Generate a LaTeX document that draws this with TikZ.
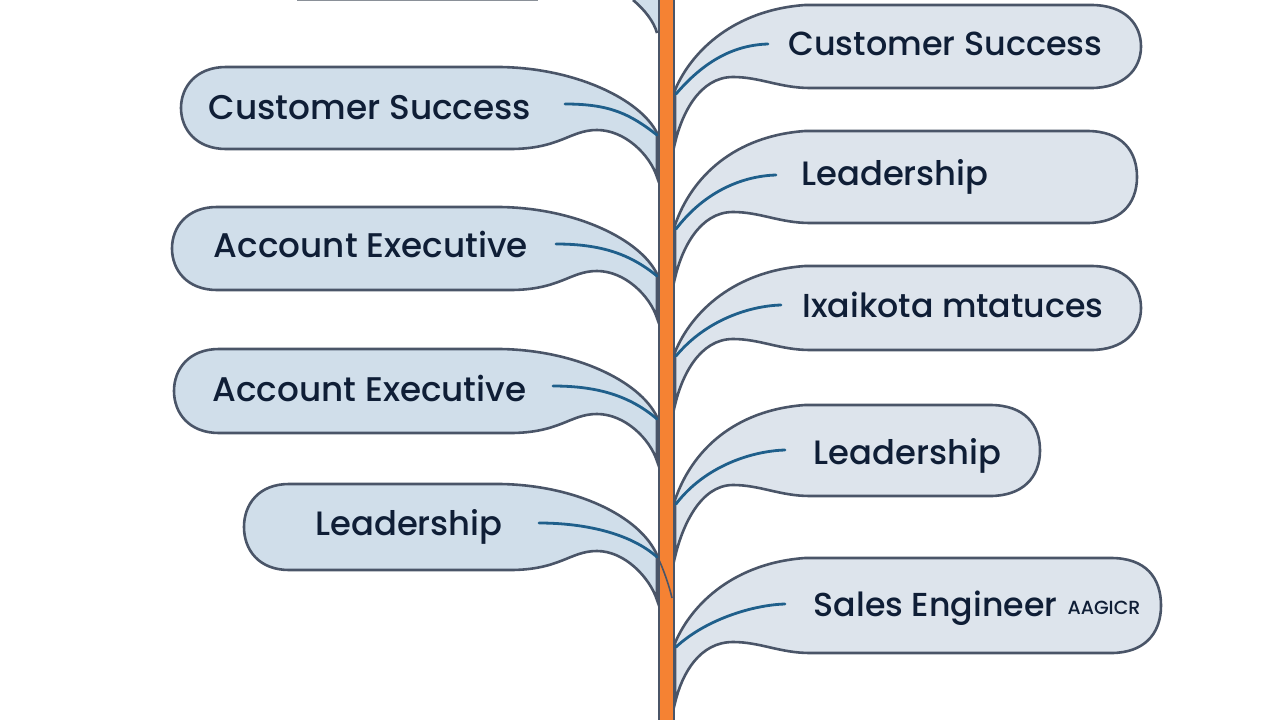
\documentclass[tikz,border=0pt]{standalone}
\usepackage{fontspec}
\setmainfont{Poppins Medium}
\definecolor{edgeC}{HTML}{4A5568}
\definecolor{leftF}{HTML}{D0DEEA}
\definecolor{rightF}{HTML}{DDE4EC}
\definecolor{blueC}{HTML}{1F5F8B}
\definecolor{inkC}{HTML}{0F1E36}
\definecolor{spineC}{HTML}{F58233}
\definecolor{faintC}{HTML}{8A9098}
\tikzset{
  bubbleL/.style={draw=edgeC,fill=leftF,line width=2.6pt},
  bubbleR/.style={draw=edgeC,fill=rightF,line width=2.6pt},
  bluelink/.style={draw=blueC,line width=2.8pt,line cap=round},
  label/.style={text=inkC,inner sep=0pt,anchor=base},
  fs/.style={font=\fontsize{#1}{#1}\selectfont},
  spineedge/.style={draw=edgeC,line width=2.4pt}
}
% name, left, top, bottom, spine top, spine end, blue x, blue y
\newcommand{\leftbub}[8]{%
  \draw[bubbleL] (657,#5) .. controls (640,{#3+32}) and (575,{#3+1}) .. (500,#3)
    -- ({#2+45},#3) .. controls ({#2+15},#3) and (#2,{#3+20}) .. (#2,{(#3+#4)/2})
    .. controls (#2,{#4-20}) and ({#2+15},#4) .. ({#2+45},#4)
    -- (510,#4) .. controls (560,#4) and (570,{#4-19}) .. (597,{#4-19})
    .. controls (625,{#4-19}) and (650,{#6-22}) .. (657,#6) -- cycle;
  \coordinate (#1s) at (657,{#5+2});
  \coordinate (#1b) at (#7,#8);
  \draw[bluelink] (#1b) .. controls ({#7+45},#8) and (630,{#8+10}) .. (#1s);
}
% name, right, top, bottom, spine top, spine end, blue x, blue y
\newcommand{\rightbub}[8]{%
  \draw[bubbleR] (675,#5) .. controls (692,{#3+45}) and (735,{#3+5}) .. (805,#3)
    -- ({#2-50},#3) .. controls ({#2-15},#3) and (#2,{#3+20}) .. (#2,{(#3+#4)/2})
    .. controls (#2,{#4-18}) and ({#2-18},#4) .. ({#2-50},#4)
    -- (810,#4) .. controls (780,#4) and (760,{#4-11}) .. (733,{#4-11})
    .. controls (700,{#4-11}) and (682,{#6-30}) .. (675,#6) -- cycle;
  \coordinate (#1s) at (676,{#5+4});
  \coordinate (#1b) at (#7,#8);
  \draw[bluelink] (#1b) .. controls ({#7-33},{#8+1}) and (705,{#8+16}) .. (#1s);
}
\begin{document}
\begin{tikzpicture}[x=1pt,y=-1pt]
  \useasboundingbox (0,0) rectangle (1280,720);
  \fill[white] (0,0) rectangle (1280,720);
  % partial bubble at the top edge
  \fill[leftF] (633,0) .. controls (645,10) and (654,22) .. (657,33) -- (660,33) -- (660,0) -- cycle;
  \coordinate (topedgeA) at (633,0);
  \coordinate (topedgeB) at (657,33);
  \draw[edgeC,line width=2.6pt] (topedgeA) .. controls (645,10) and (654,22) .. (topedgeB);
  \draw[faintC,line width=2.4pt] (297,0) -- (538,0);

  \leftbub{la}{181}{67}{149}{133}{177}{565}{104}
  \leftbub{lb}{172}{207}{290}{274}{318}{556}{244}
  \leftbub{lc}{174}{349}{433}{417}{461}{553}{386}
  \leftbub{ld}{244}{484}{570}{555}{600}{539}{523}

  \rightbub{ra}{1141}{5}{88}{90}{143}{768}{44}
  \rightbub{rb}{1137}{131}{223}{225}{278}{776}{175}
  \rightbub{rc}{1141}{266}{350}{352}{405}{781}{305}
  \rightbub{rd}{1040}{405}{496}{500}{557}{785}{450}
  \rightbub{re}{1161}{558}{653}{643}{703}{785}{604}

  % spine
  \fill[spineC] (660,0) rectangle (673,720);
  \coordinate (spLt) at (659,0);
  \coordinate (spLb) at (659,720);
  \coordinate (spRt) at (674,0);
  \coordinate (spRb) at (674,720);
  \draw[spineedge] (spLt) -- (spLb);
  \draw[spineedge] (spRt) -- (spRb);
  \coordinate (crossA) at (658,558);
  \coordinate (crossB) at (672,598);
  \draw[edgeC,line width=1.6pt] (crossA) .. controls (663,568) and (669,585) .. (crossB);

  \node[label,fs=34.3] (t1) at (370,119) {Customer Success};
  \node[label,fs=34.2] (t2) at (371,257) {Account Executive};
  \node[label,fs=34.2] (t3) at (369.5,401) {Account Executive};
  \node[label,fs=33.8] (t4) at (409,535) {Leadership};
  \node[label,fs=33.4] (t5) at (945.5,55) {Customer Success};
  \node[label,fs=33.8] (t6) at (895,185) {Leadership};
  \node[label,fs=33.2] (t7) at (953,317) {Ixaikota mtatuces};
  \node[label,fs=33.8] (t8) at (907.5,464) {Leadership};
  \node[label,fs=33.2] (t9) at (935.5,616) {Sales Engineer};
  \node[label,fs=19] (t10) at (1104,614) {AAGICR};
\end{tikzpicture}
\end{document}
